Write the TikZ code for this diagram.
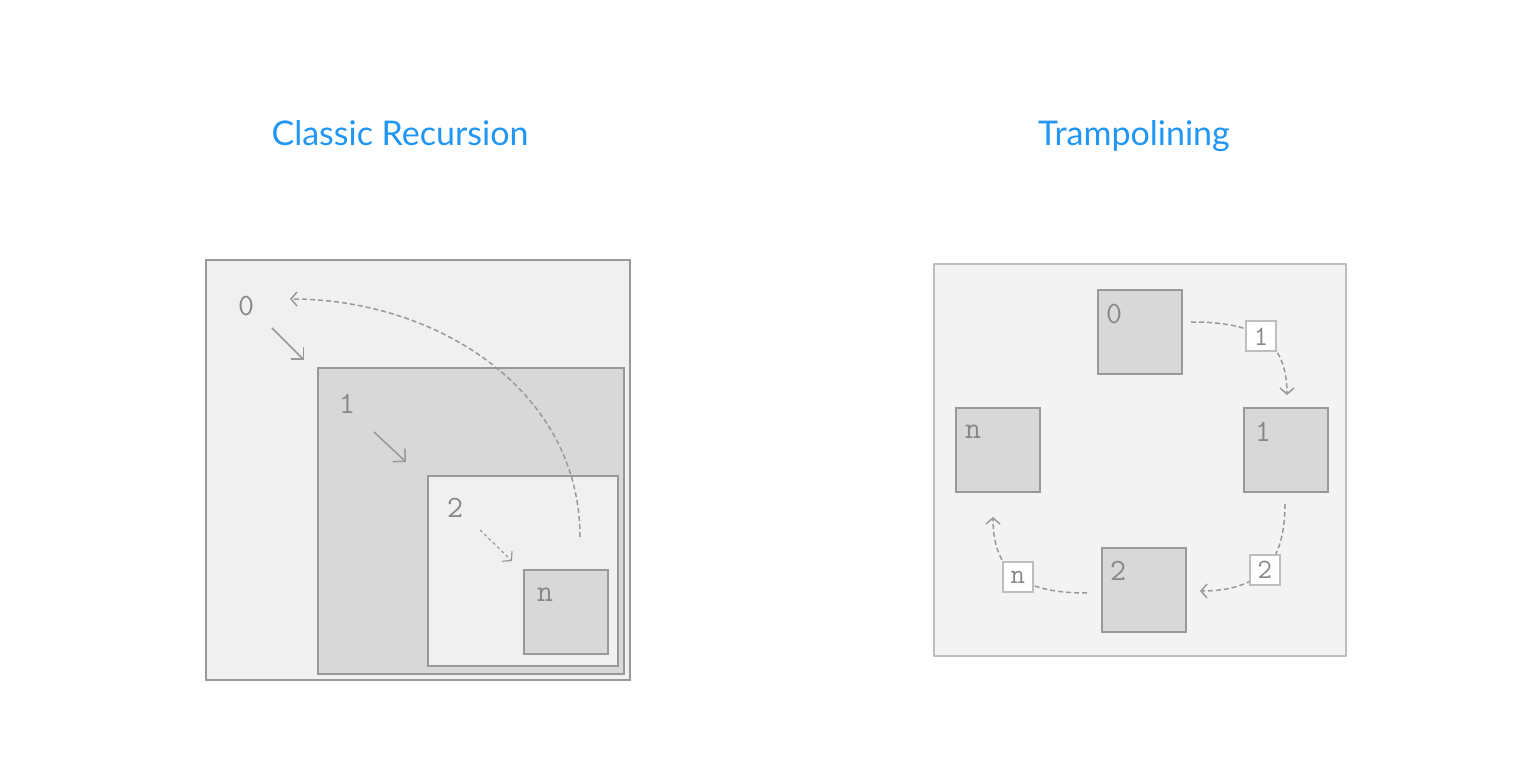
\documentclass[tikz,border=0pt]{standalone}
\usepackage{fontspec}
\newfontfamily\titlefont{Lato}
\usepackage{tikz}
\usetikzlibrary{arrows.meta,positioning}

\definecolor{titleblue}{RGB}{33,150,243}
\definecolor{boxline}{RGB}{153,153,153}
\definecolor{boxdark}{RGB}{216,216,216}
\definecolor{boxlight}{RGB}{240,240,240}
\definecolor{panel}{RGB}{243,243,243}
\definecolor{panelline}{RGB}{190,190,190}
\definecolor{numgray}{RGB}{136,136,136}

\begin{document}
\begin{tikzpicture}[x=1pt, y=1pt,
    frame/.style={draw=boxline, line width=2pt, inner sep=0pt, anchor=south west},
    num/.style={text=numgray, font=\ttfamily\fontsize{31}{31}\selectfont, inner sep=0pt},
    tag/.style={draw=panelline, fill=white, solid, line width=2pt, minimum size=30pt, inner sep=0pt,
        text=numgray, font=\ttfamily\fontsize{28}{28}\selectfont},
    title/.style={text=titleblue, font=\titlefont\fontsize{34}{34}\selectfont, anchor=base},
    callarrow/.style={draw=boxline, line width=1.5pt, -{Straight Barb[length=9pt,width=18pt]}},
    backarrow/.style={draw=boxline, line width=1.5pt, dash pattern=on 5pt off 3pt,
        -{Straight Barb[length=6pt,width=14pt]}}
]
    \path[use as bounding box] (0,0) rectangle (1532,768);

    % titles
    \node[title] (classic) at (400,622) {Classic Recursion};
    \node[title] (tramp) at (1134,622) {Trampolining};

    % classic recursion: nested frames
    \node[frame, fill=boxlight, minimum width=424pt, minimum height=420pt] (c0) at (205,87) {};
    \node[frame, fill=boxdark, minimum width=306pt, minimum height=306pt] (c1) at (317,93) {};
    \node[frame, fill=boxlight, minimum width=190pt, minimum height=190pt] (c2) at (427,101) {};
    \node[frame, fill=boxdark, minimum width=84pt, minimum height=84pt] (cn) at (523,113) {};

    \node[num] (c0lbl) at (246,462) {0};
    \node[num] (c1lbl) at (347,364) {1};
    \node[num] (c2lbl) at (455,260) {2};
    \node[num] (cnlbl) at (545,173) {n};

    \coordinate (c01a) at (272,440);
    \coordinate (c01b) at (304,408);
    \coordinate (c12a) at (374,336);
    \coordinate (c12b) at (406,306);
    \coordinate (c2na) at (480,238);
    \coordinate (c2nb) at (512,207);
    \coordinate (cret) at (580,231);
    \coordinate (cend) at (290,469);

    \draw[callarrow] (c01a) -- (c01b);
    \draw[callarrow] (c12a) -- (c12b);
    \draw[callarrow, line width=1.2pt, dash pattern=on 3pt off 3pt,
        -{Straight Barb[length=6pt,width=14pt]}] (c2na) -- (c2nb);
    \draw[backarrow] (cret) to[out=90, in=0] (cend);

    % trampolining: frames in a loop
    \node[frame, draw=panelline, fill=panel, minimum width=412pt, minimum height=392pt] (t) at (933,111) {};
    \node[frame, fill=boxdark, minimum width=84pt, minimum height=84pt] (t0) at (1097,393) {};
    \node[frame, fill=boxdark, minimum width=84pt, minimum height=84pt] (t1) at (1243,275) {};
    \node[frame, fill=boxdark, minimum width=84pt, minimum height=84pt] (t2) at (1101,135) {};
    \node[frame, fill=boxdark, minimum width=84pt, minimum height=84pt] (tn) at (955,275) {};

    \node[num] (t0lbl) at (1114,454) {0};
    \node[num] (t1lbl) at (1263,336) {1};
    \node[num] (t2lbl) at (1118,197) {2};
    \node[num] (tnlbl) at (973,336) {n};

    \coordinate (t0out) at (1191,446);
    \coordinate (t1in) at (1287,373);
    \coordinate (t1out) at (1285,264);
    \coordinate (t2in) at (1200,177);
    \coordinate (t2out) at (1087,175);
    \coordinate (tnin) at (993,251);

    \draw[backarrow] (t0out) to[out=0, in=90, looseness=1.25] node[tag, pos=0.5] (bounce1) {1} (t1in);
    \draw[backarrow] (t1out) to[out=-90, in=0, looseness=1.25] node[tag, pos=0.5] (bounce2) {2} (t2in);
    \draw[backarrow] (t2out) to[out=180, in=-90, looseness=1.25] node[tag, pos=0.5] (bouncen) {n} (tnin);
\end{tikzpicture}
\end{document}
